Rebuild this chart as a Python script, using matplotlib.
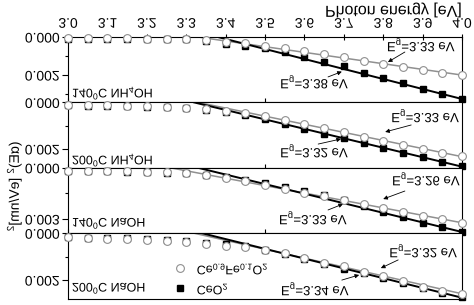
import matplotlib as mpl
mpl.use('Agg')
import matplotlib.pyplot as plt
import matplotlib.patheffects as pe
from matplotlib.text import Text
from matplotlib.transforms import Affine2D
from matplotlib.ticker import MultipleLocator, FormatStrFormatter

mpl.rcParams.update({
    "font.family": "Liberation Sans",
    "mathtext.fontset": "custom",
    "mathtext.rm": "Liberation Sans",
    "mathtext.it": "Liberation Sans:italic",
    "mathtext.bf": "Liberation Sans:bold",
    "axes.linewidth": 0.8,
})

energy = [3.00, 3.05, 3.10, 3.15, 3.20, 3.25, 3.30, 3.35, 3.40, 3.45, 3.50,
          3.55, 3.60, 3.65, 3.70, 3.75, 3.80, 3.85, 3.90, 3.95, 4.00]

samples = ["140$^0$C NH$_4$OH", "200$^0$C NH$_4$OH", "140$^0$C NaOH", "200$^0$C NaOH"]

# (alpha E)^2 for CeO2, one list per sample
ceo2_1 = [0.00008, 0.00008, 0.00009, 0.00009, 0.00010, 0.00011, 0.00012, 0.00022, 0.00035, 0.00045, 0.00060,
          0.00080, 0.00105, 0.00130, 0.00155, 0.00188, 0.00215, 0.00244, 0.00272, 0.00300, 0.00326]
ceo2_2 = [0.00013, 0.00014, 0.00015, 0.00016, 0.00018, 0.00021, 0.00026, 0.00034, 0.00042, 0.00055, 0.00073,
          0.00092, 0.00113, 0.00134, 0.00155, 0.00176, 0.00196, 0.00216, 0.00236, 0.00256, 0.00274]
ceo2_3 = [0.00018, 0.00020, 0.00021, 0.00023, 0.00025, 0.00028, 0.00032, 0.00040, 0.00052, 0.00070, 0.00090,
          0.00110, 0.00135, 0.00157, 0.00186, 0.00225, 0.00258, 0.00290, 0.00322, 0.00346, 0.00376]
ceo2_4 = [0.00016, 0.00019, 0.00020, 0.00022, 0.00026, 0.00030, 0.00035, 0.00040, 0.00048, 0.00055, 0.00070,
          0.00090, 0.00112, 0.00132, 0.00152, 0.00170, 0.00192, 0.00212, 0.00232, 0.00254, 0.00274]

# (alpha E)^2 for Ce0.9Fe0.1O2
cefe_1 = [0.00006, 0.00006, 0.00007, 0.00007, 0.00008, 0.00008, 0.00010, 0.00018, 0.00026, 0.00034, 0.00047,
          0.00060, 0.00074, 0.00090, 0.00106, 0.00128, 0.00143, 0.00157, 0.00172, 0.00187, 0.00200]
cefe_2 = [0.00011, 0.00012, 0.00013, 0.00014, 0.00016, 0.00019, 0.00024, 0.00030, 0.00036, 0.00044, 0.00060,
          0.00077, 0.00094, 0.00112, 0.00129, 0.00147, 0.00165, 0.00182, 0.00199, 0.00216, 0.00232]
cefe_3 = [0.00016, 0.00017, 0.00018, 0.00020, 0.00022, 0.00026, 0.00032, 0.00042, 0.00058, 0.00078, 0.00100,
          0.00122, 0.00145, 0.00168, 0.00190, 0.00212, 0.00236, 0.00256, 0.00280, 0.00298, 0.00322]
cefe_4 = [0.00018, 0.00022, 0.00023, 0.00025, 0.00029, 0.00033, 0.00039, 0.00044, 0.00053, 0.00060, 0.00072,
          0.00086, 0.00104, 0.00125, 0.00142, 0.00164, 0.00183, 0.00206, 0.00228, 0.00246, 0.00258]

ceo2 = [ceo2_1, ceo2_2, ceo2_3, ceo2_4]
cefe = [cefe_1, cefe_2, cefe_3, cefe_4]

# linear fits: band gap (x intercept) and slope
eg_ceo2 = [3.38, 3.32, 3.33, 3.34]
eg_cefe = [3.33, 3.33, 3.26, 3.32]
slope_ceo2 = [0.00526, 0.00406, 0.00561, 0.00417]
slope_cefe = [0.00299, 0.00348, 0.00435, 0.00380]

ymax = [0.00344, 0.00281, 0.00383, 0.00279]
ymajor = [0.002, 0.002, 0.003, 0.002]

# label centre, arrow start, arrow tip (data coords)
lab_cefe = [(3.898, 0.00042), (3.909, 0.00058), (3.911, 0.00066), (3.904, 0.00076)]
arr_cefe = [((3.855, 0.00079), (3.812, 0.00132)), ((3.871, 0.00097), (3.805, 0.00127)),
            ((3.855, 0.00136), (3.800, 0.00183)), ((3.838, 0.00114), (3.794, 0.00149))]
lab_ceo2 = [(3.627, 0.00237), (3.627, 0.00209), (3.624, 0.00294), (3.629, 0.00238)]
arr_ceo2 = [((3.660, 0.00210), (3.695, 0.00182)), ((3.635, 0.00179), (3.693, 0.00157)),
            ((3.660, 0.00247), (3.698, 0.00212)), ((3.695, 0.00200), (3.739, 0.00178))]
sample_y = [0.144, 0.12, 0.14, 0.147]

grey = "#909090"


class MirrorY(pe.AbstractPathEffect):
    # the reference is flipped top to bottom, text included
    def draw_path(self, renderer, gc, tpath, affine, rgbFace=None):
        bb = tpath.get_extents(affine)
        cy = 0.5 * (bb.y0 + bb.y1)
        flip = Affine2D().translate(0, -cy).scale(1, -1).translate(0, cy)
        renderer.draw_path(gc, tpath, affine + flip, rgbFace)


W, H = 474, 305
fig = plt.figure(figsize=(W / 100, H / 100), dpi=100)
left, right = 68, 462
tops = [37, 102.4, 167.8, 233.2]
ph = 65.4

for i in range(4):
    ax = fig.add_axes([left / W, 1 - (tops[i] + ph) / H, (right - left) / W, ph / H])
    ax.plot([eg_cefe[i], 4.0], [0, slope_cefe[i] * (4.0 - eg_cefe[i])], color=grey, lw=1.1, zorder=2)
    ax.plot([eg_ceo2[i], 4.0], [0, slope_ceo2[i] * (4.0 - eg_ceo2[i])], color="k", lw=1.4, zorder=2.5)
    sq, = ax.plot(energy, ceo2[i], "s", ms=4.2, color="k", clip_on=False, zorder=3, label="CeO$_2$")
    ci, = ax.plot(energy, cefe[i], "o", ms=5.6, mfc="white", mec=grey, mew=0.8, clip_on=False, zorder=4,
                  label="Ce$_{0.9}$Fe$_{0.1}$O$_2$")

    ax.set_xlim(3.0, 4.0)
    ax.set_ylim(ymax[i], 0)
    ax.yaxis.set_major_locator(MultipleLocator(ymajor[i]))
    ax.yaxis.set_minor_locator(MultipleLocator(ymajor[i] / 2))
    ax.yaxis.set_major_formatter(FormatStrFormatter("%.3f"))
    ax.tick_params(axis="y", which="major", direction="out", length=4, width=0.8, pad=2, labelsize=10)
    ax.tick_params(axis="y", which="minor", direction="out", length=2.5, width=0.8)

    if i == 0:
        ax.xaxis.tick_top()
        ax.xaxis.set_major_locator(MultipleLocator(0.1))
        ax.xaxis.set_major_formatter(FormatStrFormatter("%.1f"))
        ax.tick_params(axis="x", direction="inout", length=5, width=0.8, pad=2, labelsize=10)
        ax.set_xlabel("Photon energy [eV]", fontsize=11.5)
        ax.xaxis.set_label_position("top")
        ax.xaxis.set_label_coords(1.0, 1.35)
        ax.xaxis.label.set_ha("right")
    else:
        ax.xaxis.tick_top()
        ax.xaxis.set_major_locator(MultipleLocator(0.5))
        ax.tick_params(axis="x", direction="out", length=3, width=0.8, labeltop=False)

    ax.text(0.01, sample_y[i], samples[i], transform=ax.transAxes, ha="left", va="center", fontsize=9)

    ax.text(*lab_cefe[i], "E$_{\\rm g}$=%.2f eV" % eg_cefe[i], ha="center", va="center", fontsize=9.5)
    ax.text(*lab_ceo2[i], "E$_{\\rm g}$=%.2f eV" % eg_ceo2[i], ha="center", va="center", fontsize=9.5)
    for start, tip in (arr_cefe[i], arr_ceo2[i]):
        ax.annotate("", xy=tip, xytext=start,
                    arrowprops=dict(arrowstyle="-|>", lw=0.6, color="k", mutation_scale=6,
                                    shrinkA=0, shrinkB=0))

    if i == 3:
        ax.legend(handles=[ci, sq], loc="center left", bbox_to_anchor=(0.268, 0.30), frameon=False,
                  fontsize=9, handlelength=1.0, handletextpad=0.85, labelspacing=0.4, borderpad=0,
                  borderaxespad=0, numpoints=1)

fig.text(14 / W, 1 - 186 / H, "(\u03b1E)$^2$ [eV/nm]$^2$", rotation=90, ha="center", va="center", fontsize=10)

fig.canvas.draw()
for t in fig.findobj(Text):
    t.set_path_effects([MirrorY()])

fig.savefig("out.png", dpi=100)
